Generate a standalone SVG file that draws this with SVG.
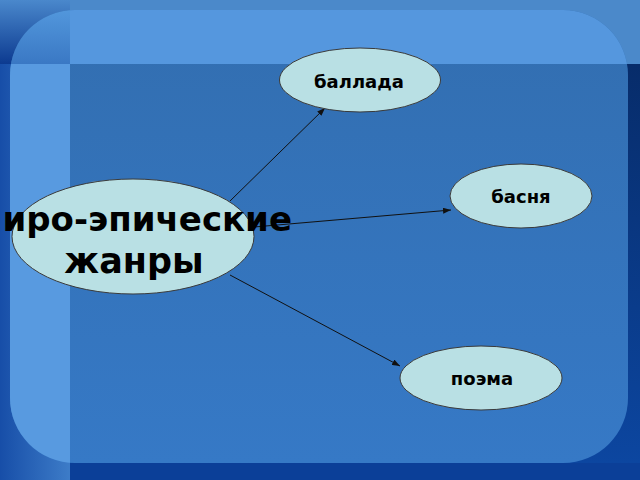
<svg xmlns="http://www.w3.org/2000/svg" width="640" height="480" viewBox="0 0 640 480">
<defs>
<linearGradient id="tlOut" x1="0" y1="0" x2="0" y2="1"><stop offset="0" stop-color="#4a88cc"/><stop offset="1" stop-color="#0c3a90"/></linearGradient>
<linearGradient id="leftOut" x1="0" y1="0" x2="1" y2="0"><stop offset="0" stop-color="#174ea8"/><stop offset="1" stop-color="#3d7cc8"/></linearGradient>
<linearGradient id="rightOut" x1="0" y1="0" x2="0" y2="1"><stop offset="0" stop-color="#072c6a"/><stop offset="1" stop-color="#0c46a0"/></linearGradient>
<linearGradient id="center" x1="0" y1="0" x2="0" y2="1"><stop offset="0" stop-color="#326eb0"/><stop offset="1" stop-color="#3679c6"/></linearGradient>
<linearGradient id="corner" x1="0" y1="0" x2="0" y2="1"><stop offset="0" stop-color="#5297dc"/><stop offset="1" stop-color="#3a78c4"/></linearGradient>
<clipPath id="panel"><rect x="10" y="10" width="618" height="453" rx="65" ry="65"/></clipPath>
<marker id="arr" markerWidth="8" markerHeight="6" refX="8" refY="3" orient="auto" markerUnits="userSpaceOnUse"><path d="M0,0 L8,3 L0,6 Z" fill="#111"/></marker>
</defs>
<style>
.node{fill:#b9e0e4;stroke:#3a3a3a;stroke-width:1}
.lbl{font-family:"DejaVu Sans",sans-serif;font-weight:bold;fill:#000;text-anchor:middle}
.conn{stroke:#111;stroke-width:1;fill:none;marker-end:url(#arr)}
</style>
<g id="background">
<rect x="0" y="0" width="640" height="480" fill="#0b3f98"/>
<rect x="0" y="0" width="640" height="64" fill="#4b89ca"/>
<rect x="0" y="0" width="70" height="64" fill="url(#tlOut)"/>
<rect x="0" y="64" width="70" height="416" fill="url(#leftOut)"/>
<rect x="70" y="64" width="570" height="399" fill="url(#rightOut)"/>
<g clip-path="url(#panel)">
<rect x="10" y="10" width="618" height="453" fill="url(#center)"/>
<rect x="70" y="10" width="558" height="54" fill="#5597de"/>
<rect x="10" y="64" width="60" height="399" fill="#589ae0"/>
<rect x="10" y="10" width="60" height="54" fill="url(#corner)"/>
</g>
</g>
<g id="connectors">
<line class="conn" x1="230" y1="201" x2="325" y2="108"/>
<line class="conn" x1="254" y1="227" x2="451" y2="210"/>
<line class="conn" x1="230" y1="275" x2="400" y2="366"/>
</g>
<g id="node-main">
<ellipse class="node" cx="133" cy="236.5" rx="121" ry="57.5"/>
<text class="lbl" x="292" y="231" font-size="34" style="text-anchor:end">иро-эпические</text>
<text class="lbl" x="134" y="273" font-size="35">жанры</text>
</g>
<g id="node-ballada">
<ellipse class="node" cx="360" cy="80" rx="80.5" ry="32"/>
<text class="lbl" x="359" y="88" font-size="18">баллада</text>
</g>
<g id="node-basnya">
<ellipse class="node" cx="521" cy="196" rx="71" ry="32"/>
<text class="lbl" x="521" y="203" font-size="18">басня</text>
</g>
<g id="node-poema">
<ellipse class="node" cx="481" cy="378" rx="81" ry="32"/>
<text class="lbl" x="482" y="385" font-size="18">поэма</text>
</g>
</svg>
